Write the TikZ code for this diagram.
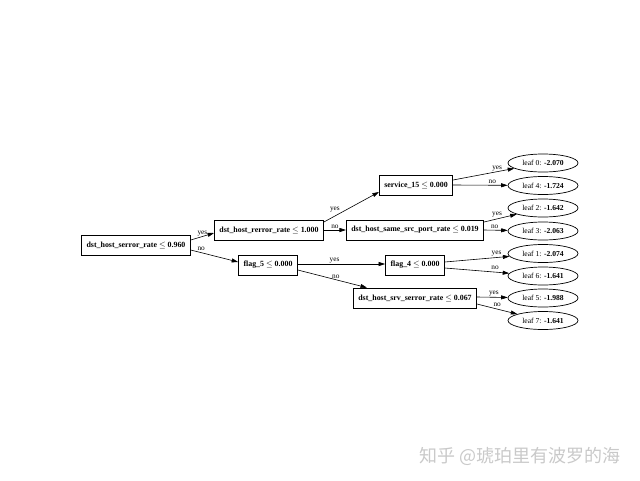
\documentclass[tikz,border=0pt]{standalone}
\usepackage{fontspec}
\setmainfont{Liberation Serif}
\newfontfamily\cjk{Noto Sans CJK SC}
\usetikzlibrary{arrows.meta,shapes.geometric}
\definecolor{Ink}{HTML}{000000}
\definecolor{Mark}{HTML}{C9C9C9}
\tikzset{
  flow/.style={-{Triangle[length=6.5pt,width=4pt]}, draw=Ink, line width=0.6pt},
  split/.style={draw=Ink, fill=white, rectangle, line width=0.7pt, minimum height=20pt,
    inner xsep=5pt, inner ysep=2pt, font=\fontsize{7.9}{8.5}\selectfont},
  leaf/.style={draw=Ink, fill=white, ellipse, line width=0.7pt, minimum width=70pt,
    minimum height=18pt, inner sep=0pt, font=\fontsize{7.6}{8.2}\selectfont},
  branch/.style={font=\fontsize{7.3}{8}\selectfont, inner sep=0.8pt},
  watermark/.style={font=\cjk\fontsize{18}{20}\selectfont, text=Mark, anchor=west},
}

\begin{document}
\begin{tikzpicture}[x=1pt, y=-1pt]
  \useasboundingbox (0,0) rectangle (640,480);

  % Split nodes, placed at the layout coordinates.
  \node[split] (root) at (136,245) {\textbf{dst\_host\_serror\_rate} $\leq$ \textbf{0.960}};
  \node[split] (rerror) at (269,230) {\textbf{dst\_host\_rerror\_rate} $\leq$ \textbf{1.000}};
  \node[split] (flagfive) at (268,265) {\textbf{flag\_5} $\leq$ \textbf{0.000}};
  \node[split] (service) at (416,185) {\textbf{service\_15} $\leq$ \textbf{0.000}};
  \node[split] (sameport) at (415,230) {\textbf{dst\_host\_same\_src\_port\_rate} $\leq$ \textbf{0.019}};
  \node[split] (flagfour) at (415,265) {\textbf{flag\_4} $\leq$ \textbf{0.000}};
  \node[split] (srvserror) at (415,298) {\textbf{dst\_host\_srv\_serror\_rate} $\leq$ \textbf{0.067}};

  % Leaves.
  \node[leaf] (leafzero) at (543,163) {leaf 0: \textbf{-2.070}};
  \node[leaf] (leaffour) at (543,185.5) {leaf 4: \textbf{-1.724}};
  \node[leaf] (leaftwo) at (543,208) {leaf 2: \textbf{-1.642}};
  \node[leaf] (leafthree) at (543,231) {leaf 3: \textbf{-2.063}};
  \node[leaf] (leafone) at (543,253.5) {leaf 1: \textbf{-2.074}};
  \node[leaf] (leafsix) at (543,276) {leaf 6: \textbf{-1.641}};
  \node[leaf] (leaffive) at (543,298) {leaf 5: \textbf{-1.988}};
  \node[leaf] (leafseven) at (543,320.5) {leaf 7: \textbf{-1.641}};

  % Branches.
  \draw[flow] ([yshift=5pt]root.east) -- node[branch, above=-1pt] {yes} ([yshift=-3pt]rerror.west);
  \draw[flow] ([yshift=-5pt]root.east) -- node[branch, pos=0.22, above=1pt] {no} ([yshift=3pt]flagfive.west);
  \draw[flow] ([yshift=8pt]rerror.east) -- node[branch, pos=0.2, above=3pt] {yes} ([yshift=-7pt]service.west);
  \draw[flow] (rerror.east) -- node[branch, above] {no} (sameport.west);
  \draw[flow] ([yshift=1pt]flagfive.east) -- node[branch, pos=0.42, above] {yes} ([yshift=1pt]flagfour.west);
  \draw[flow] ([yshift=-5pt]flagfive.east) -- node[branch, pos=0.55, above=0pt] {no} ([xshift=14pt]srvserror.north west);

  \draw[flow] ([yshift=5pt]service.east) -- node[branch, pos=0.72, above=0pt] {yes} (leafzero);
  \draw[flow] (service.east) -- node[branch, pos=0.72, above=1pt] {no} (leaffour);
  \draw[flow] ([yshift=8pt]sameport.east) -- node[branch, pos=0.4, above=1pt] {yes} (leaftwo);
  \draw[flow] (sameport.east) -- node[branch, pos=0.45, above=1pt] {no} (leafthree);
  \draw[flow] ([yshift=3pt]flagfour.east) -- node[branch, pos=0.8, above=0pt] {yes} (leafone);
  \draw[flow] ([yshift=-3pt]flagfour.east) -- node[branch, pos=0.78, above=1pt] {no} (leafsix);
  \draw[flow] ([yshift=1pt]srvserror.east) -- node[branch, pos=0.55, above=0pt] {yes} (leaffive);
  \draw[flow] ([yshift=-6pt]srvserror.east) -- node[branch, pos=0.5, above=1pt] {no} (leafseven);

  \node[watermark] (credit) at (416,456) {知乎 @琥珀里有波罗的海};
\end{tikzpicture}
\end{document}
